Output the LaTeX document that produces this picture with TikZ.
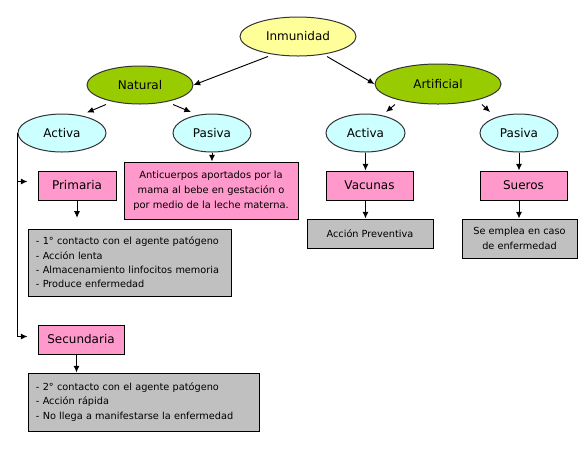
\documentclass[tikz,border=0pt]{standalone}
\usepackage{fontspec}
\setmainfont{DejaVu Sans}
\usepackage{tikz}
\usetikzlibrary{arrows.meta,shapes.geometric,positioning,calc}
\definecolor{amarillo}{HTML}{FFFF99}
\definecolor{verde}{HTML}{99CC00}
\definecolor{celeste}{HTML}{CCFFFF}
\definecolor{rosa}{HTML}{FF99CC}
\definecolor{gris}{HTML}{C0C0C0}

\begin{document}
\begin{tikzpicture}[x=0.75pt,y=-0.75pt,
  elipse/.style={ellipse,draw=black!80,line width=0.75pt,inner sep=0pt,font=\fontsize{9}{11}\selectfont},
  cel/.style={elipse,fill=celeste,minimum height=28.5pt},
  caja/.style={rectangle,draw=black,line width=0.75pt,fill=rosa,inner sep=0pt,minimum height=21.75pt,font=\fontsize{9}{11}\selectfont},
  texto/.style={rectangle,draw=black,line width=0.75pt,fill=gris,inner sep=0pt,align=center,font=\fontsize{7.3}{11.2}\selectfont},
  lista/.style={rectangle,draw=black,line width=0.75pt,fill=gris,inner xsep=6pt,inner ysep=0pt,align=left,font=\fontsize{7.3}{10.7}\selectfont},
  pfeil/.style={-{Latex[length=5pt,width=4.5pt]},line width=0.7pt}]
\useasboundingbox (0,0) rectangle (586,451);
%Ellipsen (Koordinaten in Pixel des Bildes)
\node[elipse,fill=amarillo,minimum width=87pt,minimum height=29.25pt] (inmunidad) at (298,36.5) {Inmunidad};
\node[elipse,fill=verde,minimum width=79.5pt,minimum height=28.5pt] (natural) at (140,85) {Natural};
\node[elipse,fill=verde,minimum width=94.5pt,minimum height=30pt] (artificial) at (438,84) {Artificial};
\node[cel,minimum width=66pt] (activaN) at (62,133) {Activa};
\node[cel,minimum width=58.5pt] (pasivaN) at (212,133) {Pasiva};
\node[cel,minimum width=59.25pt] (activaA) at (365.5,133) {Activa};
\node[cel,minimum width=58.5pt] (pasivaA) at (519,133) {Pasiva};
%Kaesten
\node[caja,minimum width=58.5pt] (primaria) at (77,185.5) {Primaria};
\node[caja,minimum width=65.25pt] (vacunas) at (369.5,185.5) {Vacunas};
\node[caja,minimum width=65.25pt] (sueros) at (523.5,185.5) {Sueros};
\node[caja,minimum width=64.5pt] (secundaria) at (81,339.5) {Secundaria};
\node[caja,minimum width=130.5pt,minimum height=42.75pt,align=center,font=\fontsize{7.4}{11.25}\selectfont] (anticuerpos) at (211,190.5) {Anticuerpos aportados por la\\mama al bebe en gestación o\\por medio de la leche materna.};
\node[texto,minimum width=94.5pt,minimum height=21.75pt] (accion) at (370,233.5) {Acción Preventiva};
\node[texto,minimum width=86.25pt,minimum height=29.25pt] (emplea) at (519.5,238.5) {Se emplea en caso\\de enfermedad};
\node[lista,text width=140.25pt,minimum height=50.25pt] (lista1) at (129.5,262.5) {- 1° contacto con el agente patógeno\\- Acción lenta\\- Almacenamiento linfocitos memoria\\- Produce enfermedad};
\node[lista,text width=161.25pt,minimum height=43.5pt] (lista2) at (143.5,402) {- 2° contacto con el agente patógeno\\- Acción rápida\\- No llega a manifestarse la enfermedad};
%Pfeile zwischen den Ebenen (Versatz in Pixel)
\draw[pfeil] ($(inmunidad.south)+(-30,0)$) -- (natural.east);
\draw[pfeil] ($(inmunidad.south)+(29,0)$) -- (artificial.west);
\draw[pfeil] ($(natural.south)+(-34,0)$) -- ($(activaN.north)+(25,-1)$);
\draw[pfeil] ($(natural.south)+(33,0)$) -- ($(pasivaN.north)+(-21,-1.5)$);
\draw[pfeil] ($(artificial.south)+(-43,0)$) -- ($(activaA.north)+(20.5,-1.5)$);
\draw[pfeil] ($(artificial.south)+(44,0)$) -- ($(pasivaA.north)+(-29,-1.5)$);
\foreach \von/\nach in {pasivaN/anticuerpos,activaA/vacunas,pasivaA/sueros}{
\draw[pfeil] (\von.south) -- (\von.south |- \nach.north);
}
\draw[pfeil] (vacunas.south -| activaA.south) -- (activaA.south |- accion.north);
\draw[pfeil] (sueros.south -| pasivaA.south) -- (pasivaA.south |- emplea.north);
\draw[pfeil,shorten >=8pt] (primaria.south) -- (primaria.south |- lista1.north);
\draw[pfeil] ($(secundaria.south)+(-4.5,0)$) -- ($(secundaria.south |- lista2.north)+(-4.5,0)$);
%Klammer links
\draw[pfeil,shorten >=7.5pt] (activaN.west) |- ($(secundaria.west)+(0,-3)$);
\draw[pfeil,shorten >=7.5pt] ($(activaN.west |- primaria.west)+(0,-4)$) -- ($(primaria.west)+(0,-4)$);
\end{tikzpicture}
\end{document}
